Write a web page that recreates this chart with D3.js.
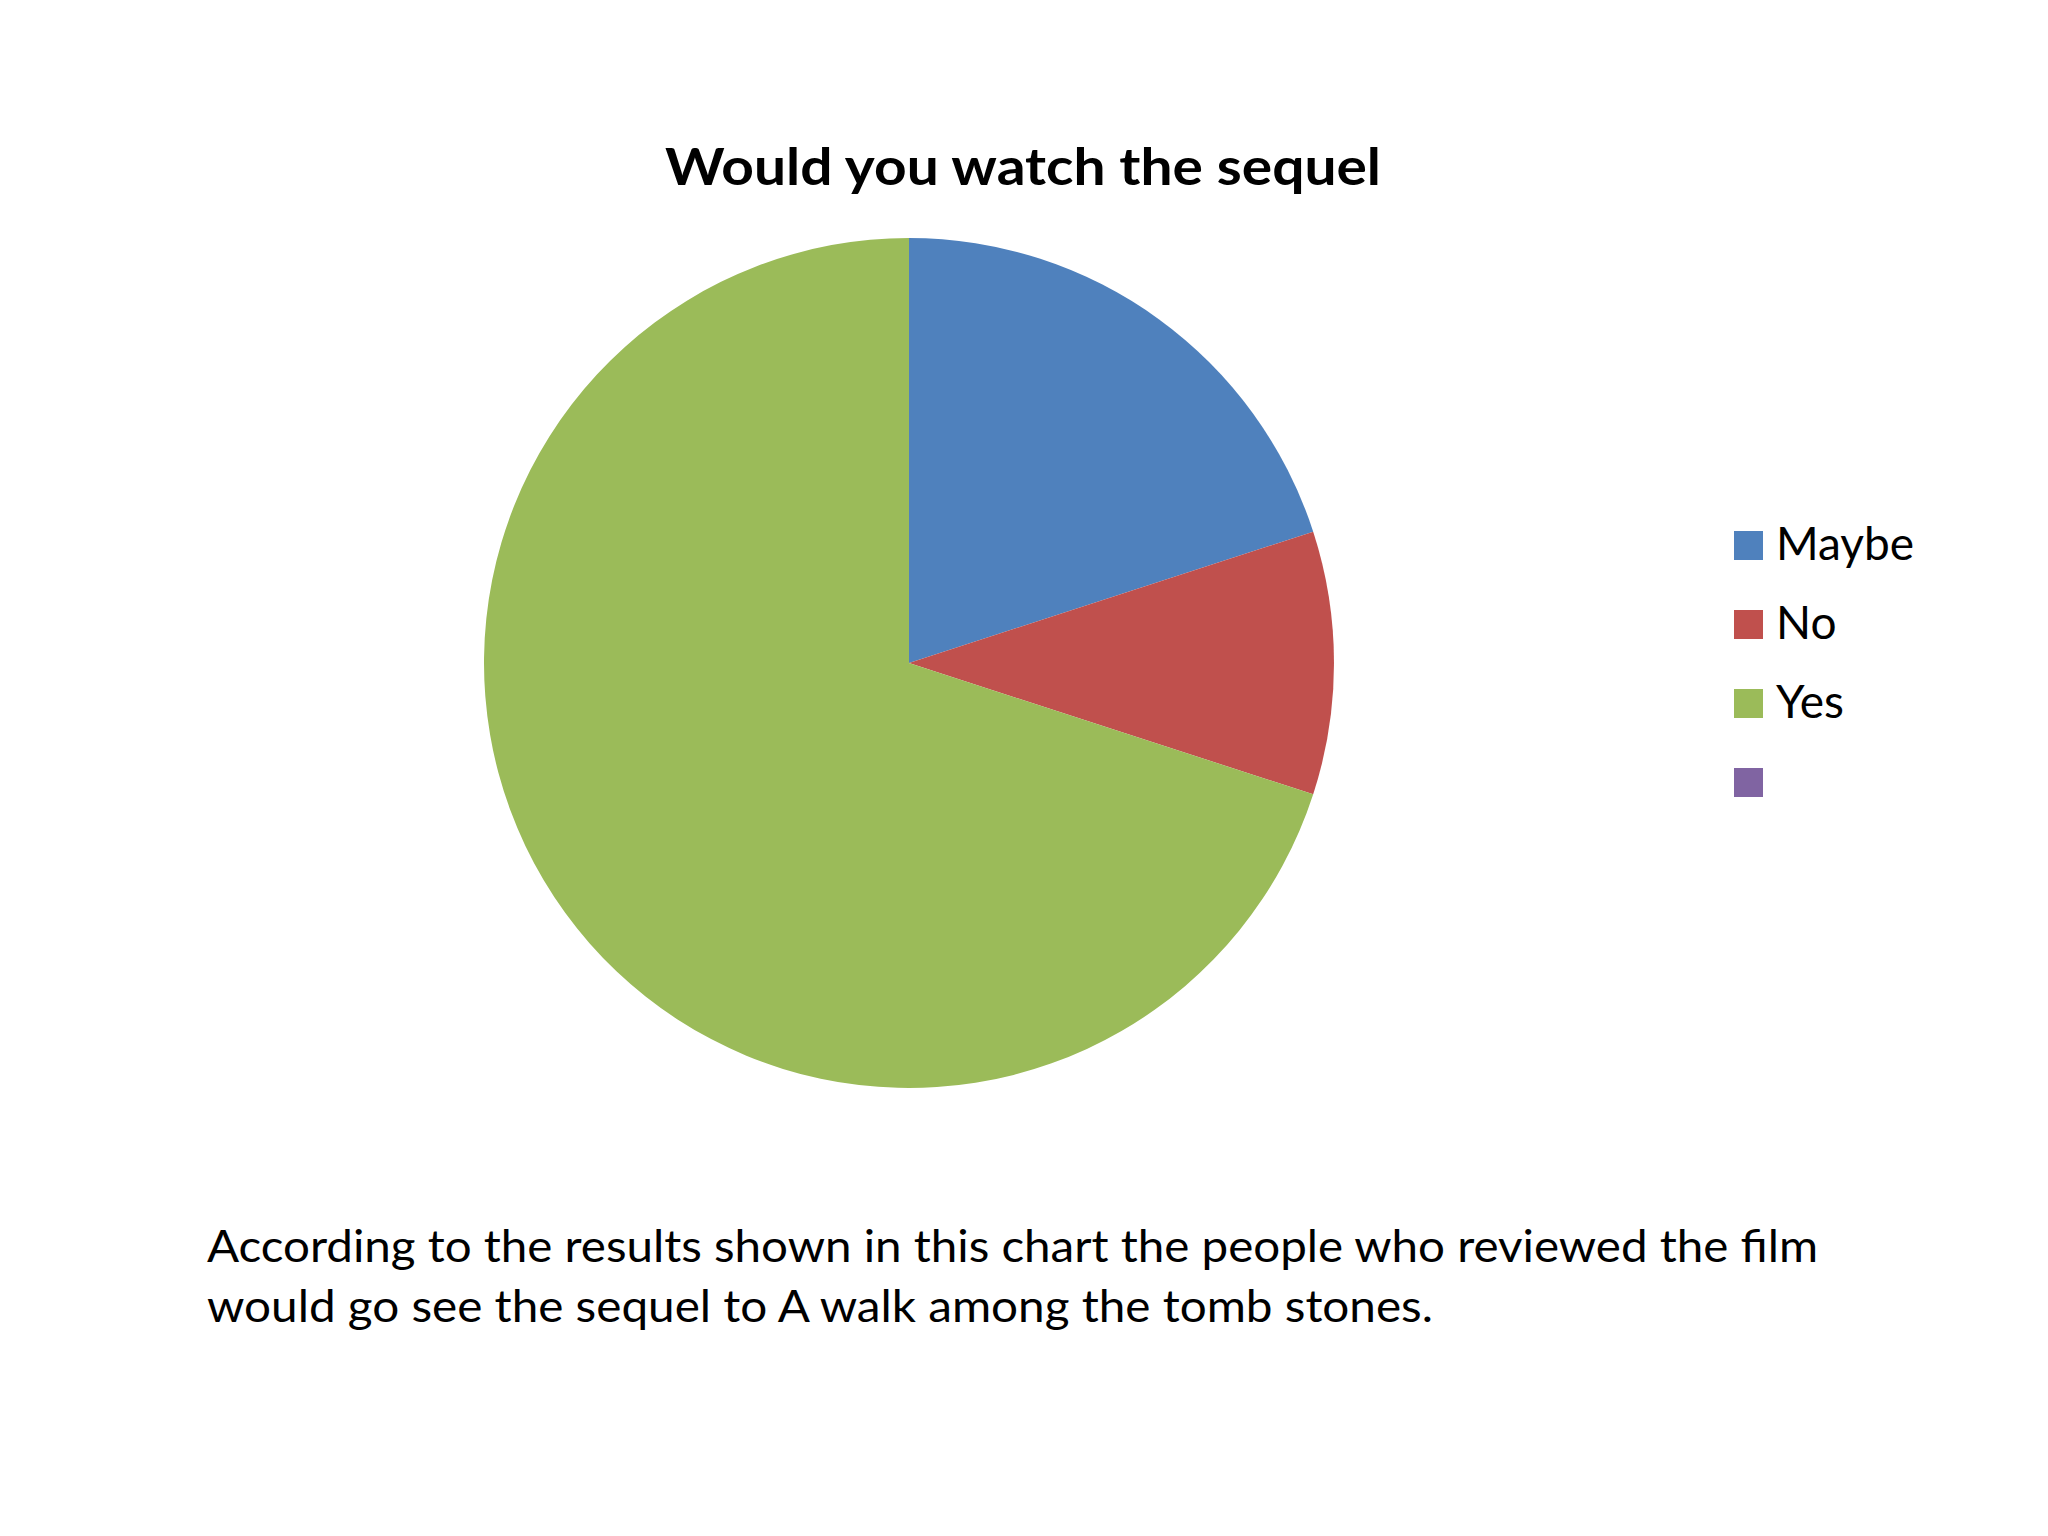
<!DOCTYPE html>
<html>
<head>
<meta charset="utf-8">
<script src="https://cdn.jsdelivr.net/npm/d3@7"></script>
<style>
  body { margin: 0; background: #fff; }
  text { font-family: Lato, "Open Sans", sans-serif; fill: #000; }
</style>
</head>
<body>
<div id="chart"></div>
<script>
// Data
// =================================
const categories = ["Maybe", "No", "Yes", ""];
const counts = [2, 1, 7, 0];
const sliceColors = ["#4F81BD", "#C0504D", "#9BBB59", "#8064A2"];
const chartTitle = "Would you watch the sequel";
const captionLines = [
  "According to the results shown in this chart the people who reviewed the film",
  "would go see the sequel to A walk among the tomb stones."
];
const captionWidths = [1611, 1226];

// Set up page
// =================================
const svgWidth = 2048;
const svgHeight = 1536;

const svg = d3.select("#chart")
  .append("svg")
  .attr("width", svgWidth)
  .attr("height", svgHeight);

svg.append("rect")
  .attr("width", svgWidth)
  .attr("height", svgHeight)
  .attr("fill", "#fff");

// Title
svg.append("text")
  .attr("x", 665)
  .attr("y", 185)
  .attr("textLength", 716)
  .attr("lengthAdjust", "spacingAndGlyphs")
  .style("font-size", "52px")
  .style("font-weight", "bold")
  .text(chartTitle);

// Pie
// =================================
const cx = 909;
const cy = 663;
const radius = 425;

const pie = d3.pie().sort(null).value(d => d);
const arc = d3.arc().innerRadius(0).outerRadius(radius);
const color = d3.scaleOrdinal().domain(categories).range(sliceColors);

const pieGroup = svg.append("g")
  .attr("transform", `translate(${cx}, ${cy})`);

pieGroup.selectAll("path")
  .data(pie(counts))
  .enter()
  .append("path")
  .attr("d", arc)
  .attr("fill", (d, i) => color(categories[i]));

// Legend
// =================================
const legendY = d3.scalePoint()
  .domain(d3.range(categories.length))
  .range([545, 782]);

const legend = svg.append("g");

const items = legend.selectAll("g")
  .data(categories)
  .enter()
  .append("g")
  .attr("transform", (d, i) => `translate(1734, ${legendY(i)})`);

items.append("rect")
  .attr("x", 0)
  .attr("y", -14)
  .attr("width", 29)
  .attr("height", 29)
  .attr("fill", (d, i) => sliceColors[i]);

items.append("text")
  .attr("x", 42)
  .attr("y", 15)
  .style("font-size", "46px")
  .text(d => d);

// Caption below the chart
// =================================
svg.append("g")
  .selectAll("text")
  .data(captionLines)
  .enter()
  .append("text")
  .attr("x", 207)
  .attr("y", (d, i) => 1262 + i * 59.5)
  .attr("textLength", (d, i) => captionWidths[i])
  .attr("lengthAdjust", "spacingAndGlyphs")
  .style("font-size", "44px")
  .text(d => d);
</script>
</body>
</html>
